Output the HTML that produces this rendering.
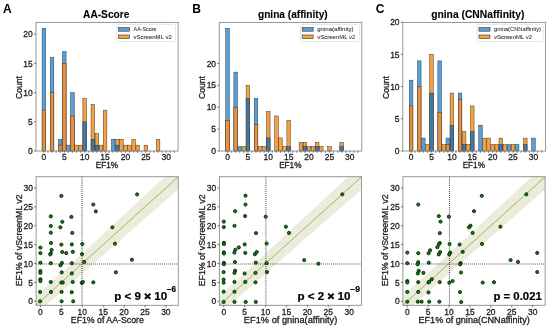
<!DOCTYPE html>
<html><head><meta charset="utf-8"><style>
html,body{margin:0;padding:0;background:#fff;width:550px;height:329px;overflow:hidden}
svg{display:block;will-change:transform}
</style></head><body>
<svg width="550" height="329" viewBox="0 0 550 329" font-family='"Liberation Sans", sans-serif' fill="#222">
<style>text{stroke:#222;stroke-width:0.3px}</style>
<rect width="550" height="329" fill="#fff"/>
<text x="3.00" y="13.3" font-size="12" font-weight="bold" fill="#000" style="stroke:none">A</text>
<text x="192.20" y="13.3" font-size="12" font-weight="bold" fill="#000" style="stroke:none">B</text>
<text x="375.70" y="13.3" font-size="12" font-weight="bold" fill="#000" style="stroke:none">C</text>
<text x="106.20" y="17.7" text-anchor="middle" font-size="10" font-weight="bold" fill="#000" textLength="46.3" lengthAdjust="spacingAndGlyphs" style="stroke:#000;stroke-width:0.1px">AA-Score</text>
<text x="292.85" y="17.7" text-anchor="middle" font-size="10" font-weight="bold" fill="#000" textLength="69.8" lengthAdjust="spacingAndGlyphs" style="stroke:#000;stroke-width:0.1px">gnina (affinity)</text>
<text x="477.80" y="17.7" text-anchor="middle" font-size="10" font-weight="bold" fill="#000" textLength="93.2" lengthAdjust="spacingAndGlyphs" style="stroke:#000;stroke-width:0.1px">gnina (CNNaffinity)</text>
<rect x="43.30" y="151.20" width="1.2" height="1.3" fill="#555"/>
<rect x="47.38" y="151.20" width="1.2" height="1.3" fill="#555"/>
<rect x="51.46" y="151.20" width="1.2" height="1.3" fill="#555"/>
<rect x="55.53" y="151.20" width="1.2" height="1.3" fill="#555"/>
<rect x="59.61" y="151.20" width="1.2" height="1.3" fill="#555"/>
<rect x="63.69" y="151.20" width="1.2" height="1.3" fill="#555"/>
<rect x="67.77" y="151.20" width="1.2" height="1.3" fill="#555"/>
<rect x="71.85" y="151.20" width="1.2" height="1.3" fill="#555"/>
<rect x="75.92" y="151.20" width="1.2" height="1.3" fill="#555"/>
<rect x="80.00" y="151.20" width="1.2" height="1.3" fill="#555"/>
<rect x="84.08" y="151.20" width="1.2" height="1.3" fill="#555"/>
<rect x="88.16" y="151.20" width="1.2" height="1.3" fill="#555"/>
<rect x="92.24" y="151.20" width="1.2" height="1.3" fill="#555"/>
<rect x="96.31" y="151.20" width="1.2" height="1.3" fill="#555"/>
<rect x="100.39" y="151.20" width="1.2" height="1.3" fill="#555"/>
<rect x="104.47" y="151.20" width="1.2" height="1.3" fill="#555"/>
<rect x="108.55" y="151.20" width="1.2" height="1.3" fill="#555"/>
<rect x="112.63" y="151.20" width="1.2" height="1.3" fill="#555"/>
<rect x="116.70" y="151.20" width="1.2" height="1.3" fill="#555"/>
<rect x="120.78" y="151.20" width="1.2" height="1.3" fill="#555"/>
<rect x="124.86" y="151.20" width="1.2" height="1.3" fill="#555"/>
<rect x="128.94" y="151.20" width="1.2" height="1.3" fill="#555"/>
<rect x="133.02" y="151.20" width="1.2" height="1.3" fill="#555"/>
<rect x="137.09" y="151.20" width="1.2" height="1.3" fill="#555"/>
<rect x="141.17" y="151.20" width="1.2" height="1.3" fill="#555"/>
<rect x="145.25" y="151.20" width="1.2" height="1.3" fill="#555"/>
<rect x="149.33" y="151.20" width="1.2" height="1.3" fill="#555"/>
<rect x="153.41" y="151.20" width="1.2" height="1.3" fill="#555"/>
<rect x="157.48" y="151.20" width="1.2" height="1.3" fill="#555"/>
<rect x="161.56" y="151.20" width="1.2" height="1.3" fill="#555"/>
<rect x="165.64" y="151.20" width="1.2" height="1.3" fill="#555"/>
<rect x="169.72" y="151.20" width="1.2" height="1.3" fill="#555"/>
<rect x="173.80" y="151.20" width="1.2" height="1.3" fill="#555"/>
<rect x="42.11" y="28.33" width="3.58" height="122.67" fill="#55a0db" stroke="#2a2a2a" stroke-width="0.45"/>
<rect x="42.11" y="110.11" width="3.58" height="40.89" fill="#ee8f3a" stroke="#2a2a2a" stroke-width="0.45"/>
<rect x="50.27" y="57.54" width="3.58" height="93.46" fill="#55a0db" stroke="#2a2a2a" stroke-width="0.45"/>
<rect x="50.27" y="92.59" width="3.58" height="58.41" fill="#ee8f3a" stroke="#2a2a2a" stroke-width="0.45"/>
<rect x="58.42" y="139.32" width="3.58" height="11.68" fill="#55a0db" stroke="#2a2a2a" stroke-width="0.45"/>
<rect x="58.42" y="145.16" width="3.58" height="5.84" fill="#ee8f3a" stroke="#2a2a2a" stroke-width="0.45"/>
<rect x="62.50" y="51.70" width="3.58" height="99.30" fill="#55a0db" stroke="#2a2a2a" stroke-width="0.45"/>
<rect x="62.50" y="63.38" width="3.58" height="87.62" fill="#ee8f3a" stroke="#2a2a2a" stroke-width="0.45"/>
<rect x="66.58" y="145.16" width="3.58" height="5.84" fill="#55a0db" stroke="#2a2a2a" stroke-width="0.45"/>
<rect x="70.66" y="92.59" width="3.58" height="58.41" fill="#55a0db" stroke="#2a2a2a" stroke-width="0.45"/>
<rect x="70.66" y="115.95" width="3.58" height="35.05" fill="#ee8f3a" stroke="#2a2a2a" stroke-width="0.45"/>
<rect x="74.73" y="145.16" width="3.58" height="5.84" fill="#f8a03e" stroke="#2a2a2a" stroke-width="0.45"/>
<rect x="78.81" y="145.16" width="3.58" height="5.84" fill="#f8a03e" stroke="#2a2a2a" stroke-width="0.45"/>
<rect x="82.89" y="98.43" width="3.58" height="52.57" fill="#f8a03e" stroke="#2a2a2a" stroke-width="0.45"/>
<rect x="82.89" y="121.79" width="3.58" height="29.21" fill="#4178a6" stroke="#2a2a2a" stroke-width="0.45"/>
<rect x="91.05" y="104.27" width="3.58" height="46.73" fill="#f8a03e" stroke="#2a2a2a" stroke-width="0.45"/>
<rect x="91.05" y="139.32" width="3.58" height="11.68" fill="#4178a6" stroke="#2a2a2a" stroke-width="0.45"/>
<rect x="95.12" y="133.48" width="3.58" height="17.52" fill="#f8a03e" stroke="#2a2a2a" stroke-width="0.45"/>
<rect x="95.12" y="145.16" width="3.58" height="5.84" fill="#4178a6" stroke="#2a2a2a" stroke-width="0.45"/>
<rect x="99.20" y="145.16" width="3.58" height="5.84" fill="#f8a03e" stroke="#2a2a2a" stroke-width="0.45"/>
<rect x="103.28" y="110.11" width="3.58" height="40.89" fill="#f8a03e" stroke="#2a2a2a" stroke-width="0.45"/>
<rect x="111.44" y="139.32" width="3.58" height="11.68" fill="#55a0db" stroke="#2a2a2a" stroke-width="0.45"/>
<rect x="115.52" y="139.32" width="3.58" height="11.68" fill="#f8a03e" stroke="#2a2a2a" stroke-width="0.45"/>
<rect x="115.52" y="145.16" width="3.58" height="5.84" fill="#4178a6" stroke="#2a2a2a" stroke-width="0.45"/>
<rect x="119.59" y="139.32" width="3.58" height="11.68" fill="#f8a03e" stroke="#2a2a2a" stroke-width="0.45"/>
<rect x="123.67" y="145.16" width="3.58" height="5.84" fill="#f8a03e" stroke="#2a2a2a" stroke-width="0.45"/>
<rect x="127.75" y="145.16" width="3.58" height="5.84" fill="#f8a03e" stroke="#2a2a2a" stroke-width="0.45"/>
<rect x="131.83" y="139.32" width="3.58" height="11.68" fill="#f8a03e" stroke="#2a2a2a" stroke-width="0.45"/>
<rect x="135.91" y="145.16" width="3.58" height="5.84" fill="#f8a03e" stroke="#2a2a2a" stroke-width="0.45"/>
<rect x="144.06" y="145.16" width="3.58" height="5.84" fill="#f8a03e" stroke="#2a2a2a" stroke-width="0.45"/>
<rect x="156.30" y="139.32" width="3.58" height="11.68" fill="#f8a03e" stroke="#2a2a2a" stroke-width="0.45"/>
<rect x="36.00" y="22.40" width="142.10" height="128.60" fill="none" stroke="#8c8c8c" stroke-width="0.9"/>
<line x1="34.00" y1="151.00" x2="36.00" y2="151.00" stroke="#555" stroke-width="0.8"/>
<text transform="translate(32.80,154.15) scale(0.885,1)" text-anchor="end" font-size="9.6">0</text>
<line x1="34.00" y1="121.79" x2="36.00" y2="121.79" stroke="#555" stroke-width="0.8"/>
<text transform="translate(32.80,124.94) scale(0.885,1)" text-anchor="end" font-size="9.6">5</text>
<line x1="34.00" y1="92.59" x2="36.00" y2="92.59" stroke="#555" stroke-width="0.8"/>
<text transform="translate(32.80,95.74) scale(0.885,1)" text-anchor="end" font-size="9.6">10</text>
<line x1="34.00" y1="63.38" x2="36.00" y2="63.38" stroke="#555" stroke-width="0.8"/>
<text transform="translate(32.80,66.53) scale(0.885,1)" text-anchor="end" font-size="9.6">15</text>
<line x1="34.00" y1="34.17" x2="36.00" y2="34.17" stroke="#555" stroke-width="0.8"/>
<text transform="translate(32.80,37.32) scale(0.885,1)" text-anchor="end" font-size="9.6">20</text>
<text transform="translate(43.90,159.95) scale(0.885,1)" text-anchor="middle" font-size="9.6">0</text>
<text transform="translate(64.29,159.95) scale(0.885,1)" text-anchor="middle" font-size="9.6">5</text>
<text transform="translate(84.68,159.95) scale(0.885,1)" text-anchor="middle" font-size="9.6">10</text>
<text transform="translate(105.07,159.95) scale(0.885,1)" text-anchor="middle" font-size="9.6">15</text>
<text transform="translate(125.46,159.95) scale(0.885,1)" text-anchor="middle" font-size="9.6">20</text>
<text transform="translate(145.85,159.95) scale(0.885,1)" text-anchor="middle" font-size="9.6">25</text>
<text transform="translate(166.24,159.95) scale(0.885,1)" text-anchor="middle" font-size="9.6">30</text>
<text x="107.00" y="168.20" text-anchor="middle" font-size="8.2">EF1%</text>
<text transform="translate(22.00,87.50) rotate(-90)" text-anchor="middle" font-size="8.6">Count</text>
<rect x="226.90" y="151.20" width="1.2" height="1.3" fill="#555"/>
<rect x="230.98" y="151.20" width="1.2" height="1.3" fill="#555"/>
<rect x="235.06" y="151.20" width="1.2" height="1.3" fill="#555"/>
<rect x="239.13" y="151.20" width="1.2" height="1.3" fill="#555"/>
<rect x="243.21" y="151.20" width="1.2" height="1.3" fill="#555"/>
<rect x="247.29" y="151.20" width="1.2" height="1.3" fill="#555"/>
<rect x="251.37" y="151.20" width="1.2" height="1.3" fill="#555"/>
<rect x="255.45" y="151.20" width="1.2" height="1.3" fill="#555"/>
<rect x="259.52" y="151.20" width="1.2" height="1.3" fill="#555"/>
<rect x="263.60" y="151.20" width="1.2" height="1.3" fill="#555"/>
<rect x="267.68" y="151.20" width="1.2" height="1.3" fill="#555"/>
<rect x="271.76" y="151.20" width="1.2" height="1.3" fill="#555"/>
<rect x="275.84" y="151.20" width="1.2" height="1.3" fill="#555"/>
<rect x="279.91" y="151.20" width="1.2" height="1.3" fill="#555"/>
<rect x="283.99" y="151.20" width="1.2" height="1.3" fill="#555"/>
<rect x="288.07" y="151.20" width="1.2" height="1.3" fill="#555"/>
<rect x="292.15" y="151.20" width="1.2" height="1.3" fill="#555"/>
<rect x="296.23" y="151.20" width="1.2" height="1.3" fill="#555"/>
<rect x="300.30" y="151.20" width="1.2" height="1.3" fill="#555"/>
<rect x="304.38" y="151.20" width="1.2" height="1.3" fill="#555"/>
<rect x="308.46" y="151.20" width="1.2" height="1.3" fill="#555"/>
<rect x="312.54" y="151.20" width="1.2" height="1.3" fill="#555"/>
<rect x="316.62" y="151.20" width="1.2" height="1.3" fill="#555"/>
<rect x="320.69" y="151.20" width="1.2" height="1.3" fill="#555"/>
<rect x="324.77" y="151.20" width="1.2" height="1.3" fill="#555"/>
<rect x="328.85" y="151.20" width="1.2" height="1.3" fill="#555"/>
<rect x="332.93" y="151.20" width="1.2" height="1.3" fill="#555"/>
<rect x="337.01" y="151.20" width="1.2" height="1.3" fill="#555"/>
<rect x="341.08" y="151.20" width="1.2" height="1.3" fill="#555"/>
<rect x="345.16" y="151.20" width="1.2" height="1.3" fill="#555"/>
<rect x="349.24" y="151.20" width="1.2" height="1.3" fill="#555"/>
<rect x="353.32" y="151.20" width="1.2" height="1.3" fill="#555"/>
<rect x="357.40" y="151.20" width="1.2" height="1.3" fill="#555"/>
<rect x="225.71" y="28.33" width="3.58" height="122.67" fill="#55a0db" stroke="#2a2a2a" stroke-width="0.45"/>
<rect x="225.71" y="120.33" width="3.58" height="30.67" fill="#ee8f3a" stroke="#2a2a2a" stroke-width="0.45"/>
<rect x="233.87" y="72.14" width="3.58" height="78.86" fill="#55a0db" stroke="#2a2a2a" stroke-width="0.45"/>
<rect x="233.87" y="107.19" width="3.58" height="43.81" fill="#ee8f3a" stroke="#2a2a2a" stroke-width="0.45"/>
<rect x="237.94" y="146.62" width="3.58" height="4.38" fill="#55a0db" stroke="#2a2a2a" stroke-width="0.45"/>
<rect x="242.02" y="146.62" width="3.58" height="4.38" fill="#f8a03e" stroke="#2a2a2a" stroke-width="0.45"/>
<rect x="246.10" y="85.29" width="3.58" height="65.71" fill="#f8a03e" stroke="#2a2a2a" stroke-width="0.45"/>
<rect x="246.10" y="98.43" width="3.58" height="52.57" fill="#4178a6" stroke="#2a2a2a" stroke-width="0.45"/>
<rect x="254.26" y="98.43" width="3.58" height="52.57" fill="#55a0db" stroke="#2a2a2a" stroke-width="0.45"/>
<rect x="254.26" y="124.71" width="3.58" height="26.29" fill="#ee8f3a" stroke="#2a2a2a" stroke-width="0.45"/>
<rect x="258.33" y="146.62" width="3.58" height="4.38" fill="#f8a03e" stroke="#2a2a2a" stroke-width="0.45"/>
<rect x="262.41" y="146.62" width="3.58" height="4.38" fill="#f8a03e" stroke="#2a2a2a" stroke-width="0.45"/>
<rect x="266.49" y="111.57" width="3.58" height="39.43" fill="#f8a03e" stroke="#2a2a2a" stroke-width="0.45"/>
<rect x="266.49" y="137.86" width="3.58" height="13.14" fill="#4178a6" stroke="#2a2a2a" stroke-width="0.45"/>
<rect x="274.65" y="115.95" width="3.58" height="35.05" fill="#f8a03e" stroke="#2a2a2a" stroke-width="0.45"/>
<rect x="278.73" y="137.86" width="3.58" height="13.14" fill="#f8a03e" stroke="#2a2a2a" stroke-width="0.45"/>
<rect x="282.80" y="146.62" width="3.58" height="4.38" fill="#f8a03e" stroke="#2a2a2a" stroke-width="0.45"/>
<rect x="286.88" y="120.33" width="3.58" height="30.67" fill="#f8a03e" stroke="#2a2a2a" stroke-width="0.45"/>
<rect x="286.88" y="146.62" width="3.58" height="4.38" fill="#4178a6" stroke="#2a2a2a" stroke-width="0.45"/>
<rect x="299.12" y="142.24" width="3.58" height="8.76" fill="#f8a03e" stroke="#2a2a2a" stroke-width="0.45"/>
<rect x="303.19" y="142.24" width="3.58" height="8.76" fill="#f8a03e" stroke="#2a2a2a" stroke-width="0.45"/>
<rect x="303.19" y="146.62" width="3.58" height="4.38" fill="#4178a6" stroke="#2a2a2a" stroke-width="0.45"/>
<rect x="307.27" y="146.62" width="3.58" height="4.38" fill="#f8a03e" stroke="#2a2a2a" stroke-width="0.45"/>
<rect x="311.35" y="146.62" width="3.58" height="4.38" fill="#f8a03e" stroke="#2a2a2a" stroke-width="0.45"/>
<rect x="315.43" y="142.24" width="3.58" height="8.76" fill="#f8a03e" stroke="#2a2a2a" stroke-width="0.45"/>
<rect x="315.43" y="146.62" width="3.58" height="4.38" fill="#4178a6" stroke="#2a2a2a" stroke-width="0.45"/>
<rect x="319.50" y="146.62" width="3.58" height="4.38" fill="#f8a03e" stroke="#2a2a2a" stroke-width="0.45"/>
<rect x="327.66" y="146.62" width="3.58" height="4.38" fill="#f8a03e" stroke="#2a2a2a" stroke-width="0.45"/>
<rect x="339.89" y="142.24" width="3.58" height="8.76" fill="#f8a03e" stroke="#2a2a2a" stroke-width="0.45"/>
<rect x="339.89" y="146.62" width="3.58" height="4.38" fill="#4178a6" stroke="#2a2a2a" stroke-width="0.45"/>
<rect x="219.30" y="22.40" width="142.45" height="128.60" fill="none" stroke="#8c8c8c" stroke-width="0.9"/>
<line x1="217.30" y1="151.00" x2="219.30" y2="151.00" stroke="#555" stroke-width="0.8"/>
<text transform="translate(216.10,154.15) scale(0.885,1)" text-anchor="end" font-size="9.6">0</text>
<line x1="217.30" y1="129.10" x2="219.30" y2="129.10" stroke="#555" stroke-width="0.8"/>
<text transform="translate(216.10,132.25) scale(0.885,1)" text-anchor="end" font-size="9.6">5</text>
<line x1="217.30" y1="107.19" x2="219.30" y2="107.19" stroke="#555" stroke-width="0.8"/>
<text transform="translate(216.10,110.34) scale(0.885,1)" text-anchor="end" font-size="9.6">10</text>
<line x1="217.30" y1="85.29" x2="219.30" y2="85.29" stroke="#555" stroke-width="0.8"/>
<text transform="translate(216.10,88.44) scale(0.885,1)" text-anchor="end" font-size="9.6">15</text>
<line x1="217.30" y1="63.38" x2="219.30" y2="63.38" stroke="#555" stroke-width="0.8"/>
<text transform="translate(216.10,66.53) scale(0.885,1)" text-anchor="end" font-size="9.6">20</text>
<text transform="translate(227.50,159.95) scale(0.885,1)" text-anchor="middle" font-size="9.6">0</text>
<text transform="translate(247.89,159.95) scale(0.885,1)" text-anchor="middle" font-size="9.6">5</text>
<text transform="translate(268.28,159.95) scale(0.885,1)" text-anchor="middle" font-size="9.6">10</text>
<text transform="translate(288.67,159.95) scale(0.885,1)" text-anchor="middle" font-size="9.6">15</text>
<text transform="translate(309.06,159.95) scale(0.885,1)" text-anchor="middle" font-size="9.6">20</text>
<text transform="translate(329.45,159.95) scale(0.885,1)" text-anchor="middle" font-size="9.6">25</text>
<text transform="translate(349.84,159.95) scale(0.885,1)" text-anchor="middle" font-size="9.6">30</text>
<text x="290.30" y="168.20" text-anchor="middle" font-size="8.2">EF1%</text>
<text transform="translate(205.30,87.50) rotate(-90)" text-anchor="middle" font-size="8.6">Count</text>
<rect x="410.50" y="151.20" width="1.2" height="1.3" fill="#555"/>
<rect x="414.58" y="151.20" width="1.2" height="1.3" fill="#555"/>
<rect x="418.66" y="151.20" width="1.2" height="1.3" fill="#555"/>
<rect x="422.73" y="151.20" width="1.2" height="1.3" fill="#555"/>
<rect x="426.81" y="151.20" width="1.2" height="1.3" fill="#555"/>
<rect x="430.89" y="151.20" width="1.2" height="1.3" fill="#555"/>
<rect x="434.97" y="151.20" width="1.2" height="1.3" fill="#555"/>
<rect x="439.05" y="151.20" width="1.2" height="1.3" fill="#555"/>
<rect x="443.12" y="151.20" width="1.2" height="1.3" fill="#555"/>
<rect x="447.20" y="151.20" width="1.2" height="1.3" fill="#555"/>
<rect x="451.28" y="151.20" width="1.2" height="1.3" fill="#555"/>
<rect x="455.36" y="151.20" width="1.2" height="1.3" fill="#555"/>
<rect x="459.44" y="151.20" width="1.2" height="1.3" fill="#555"/>
<rect x="463.51" y="151.20" width="1.2" height="1.3" fill="#555"/>
<rect x="467.59" y="151.20" width="1.2" height="1.3" fill="#555"/>
<rect x="471.67" y="151.20" width="1.2" height="1.3" fill="#555"/>
<rect x="475.75" y="151.20" width="1.2" height="1.3" fill="#555"/>
<rect x="479.83" y="151.20" width="1.2" height="1.3" fill="#555"/>
<rect x="483.90" y="151.20" width="1.2" height="1.3" fill="#555"/>
<rect x="487.98" y="151.20" width="1.2" height="1.3" fill="#555"/>
<rect x="492.06" y="151.20" width="1.2" height="1.3" fill="#555"/>
<rect x="496.14" y="151.20" width="1.2" height="1.3" fill="#555"/>
<rect x="500.22" y="151.20" width="1.2" height="1.3" fill="#555"/>
<rect x="504.29" y="151.20" width="1.2" height="1.3" fill="#555"/>
<rect x="508.37" y="151.20" width="1.2" height="1.3" fill="#555"/>
<rect x="512.45" y="151.20" width="1.2" height="1.3" fill="#555"/>
<rect x="516.53" y="151.20" width="1.2" height="1.3" fill="#555"/>
<rect x="520.61" y="151.20" width="1.2" height="1.3" fill="#555"/>
<rect x="524.68" y="151.20" width="1.2" height="1.3" fill="#555"/>
<rect x="528.76" y="151.20" width="1.2" height="1.3" fill="#555"/>
<rect x="532.84" y="151.20" width="1.2" height="1.3" fill="#555"/>
<rect x="536.92" y="151.20" width="1.2" height="1.3" fill="#555"/>
<rect x="541.00" y="151.20" width="1.2" height="1.3" fill="#555"/>
<rect x="409.31" y="80.16" width="3.58" height="70.84" fill="#55a0db" stroke="#2a2a2a" stroke-width="0.45"/>
<rect x="409.31" y="105.92" width="3.58" height="45.08" fill="#ee8f3a" stroke="#2a2a2a" stroke-width="0.45"/>
<rect x="417.47" y="60.84" width="3.58" height="90.16" fill="#55a0db" stroke="#2a2a2a" stroke-width="0.45"/>
<rect x="417.47" y="86.60" width="3.58" height="64.40" fill="#ee8f3a" stroke="#2a2a2a" stroke-width="0.45"/>
<rect x="421.55" y="138.12" width="3.58" height="12.88" fill="#55a0db" stroke="#2a2a2a" stroke-width="0.45"/>
<rect x="425.62" y="144.56" width="3.58" height="6.44" fill="#f8a03e" stroke="#2a2a2a" stroke-width="0.45"/>
<rect x="429.70" y="54.40" width="3.58" height="96.60" fill="#f8a03e" stroke="#2a2a2a" stroke-width="0.45"/>
<rect x="429.70" y="93.04" width="3.58" height="57.96" fill="#4178a6" stroke="#2a2a2a" stroke-width="0.45"/>
<rect x="437.86" y="60.84" width="3.58" height="90.16" fill="#55a0db" stroke="#2a2a2a" stroke-width="0.45"/>
<rect x="437.86" y="112.36" width="3.58" height="38.64" fill="#ee8f3a" stroke="#2a2a2a" stroke-width="0.45"/>
<rect x="441.94" y="144.56" width="3.58" height="6.44" fill="#f8a03e" stroke="#2a2a2a" stroke-width="0.45"/>
<rect x="446.01" y="138.12" width="3.58" height="12.88" fill="#55a0db" stroke="#2a2a2a" stroke-width="0.45"/>
<rect x="446.01" y="144.56" width="3.58" height="6.44" fill="#ee8f3a" stroke="#2a2a2a" stroke-width="0.45"/>
<rect x="450.09" y="93.04" width="3.58" height="57.96" fill="#f8a03e" stroke="#2a2a2a" stroke-width="0.45"/>
<rect x="450.09" y="125.24" width="3.58" height="25.76" fill="#4178a6" stroke="#2a2a2a" stroke-width="0.45"/>
<rect x="458.25" y="93.04" width="3.58" height="57.96" fill="#55a0db" stroke="#2a2a2a" stroke-width="0.45"/>
<rect x="458.25" y="99.48" width="3.58" height="51.52" fill="#ee8f3a" stroke="#2a2a2a" stroke-width="0.45"/>
<rect x="462.33" y="131.68" width="3.58" height="19.32" fill="#f8a03e" stroke="#2a2a2a" stroke-width="0.45"/>
<rect x="462.33" y="144.56" width="3.58" height="6.44" fill="#4178a6" stroke="#2a2a2a" stroke-width="0.45"/>
<rect x="466.40" y="144.56" width="3.58" height="6.44" fill="#f8a03e" stroke="#2a2a2a" stroke-width="0.45"/>
<rect x="470.48" y="105.92" width="3.58" height="45.08" fill="#f8a03e" stroke="#2a2a2a" stroke-width="0.45"/>
<rect x="470.48" y="131.68" width="3.58" height="19.32" fill="#4178a6" stroke="#2a2a2a" stroke-width="0.45"/>
<rect x="478.64" y="125.24" width="3.58" height="25.76" fill="#55a0db" stroke="#2a2a2a" stroke-width="0.45"/>
<rect x="482.72" y="138.12" width="3.58" height="12.88" fill="#f8a03e" stroke="#2a2a2a" stroke-width="0.45"/>
<rect x="486.79" y="138.12" width="3.58" height="12.88" fill="#f8a03e" stroke="#2a2a2a" stroke-width="0.45"/>
<rect x="490.87" y="144.56" width="3.58" height="6.44" fill="#f8a03e" stroke="#2a2a2a" stroke-width="0.45"/>
<rect x="494.95" y="144.56" width="3.58" height="6.44" fill="#f8a03e" stroke="#2a2a2a" stroke-width="0.45"/>
<rect x="499.03" y="138.12" width="3.58" height="12.88" fill="#f8a03e" stroke="#2a2a2a" stroke-width="0.45"/>
<rect x="499.03" y="144.56" width="3.58" height="6.44" fill="#4178a6" stroke="#2a2a2a" stroke-width="0.45"/>
<rect x="503.11" y="144.56" width="3.58" height="6.44" fill="#f8a03e" stroke="#2a2a2a" stroke-width="0.45"/>
<rect x="507.18" y="144.56" width="3.58" height="6.44" fill="#55a0db" stroke="#2a2a2a" stroke-width="0.45"/>
<rect x="511.26" y="144.56" width="3.58" height="6.44" fill="#f8a03e" stroke="#2a2a2a" stroke-width="0.45"/>
<rect x="515.34" y="144.56" width="3.58" height="6.44" fill="#55a0db" stroke="#2a2a2a" stroke-width="0.45"/>
<rect x="523.50" y="138.12" width="3.58" height="12.88" fill="#f8a03e" stroke="#2a2a2a" stroke-width="0.45"/>
<rect x="523.50" y="144.56" width="3.58" height="6.44" fill="#4178a6" stroke="#2a2a2a" stroke-width="0.45"/>
<rect x="531.65" y="138.12" width="3.58" height="12.88" fill="#55a0db" stroke="#2a2a2a" stroke-width="0.45"/>
<rect x="402.80" y="22.40" width="142.75" height="128.60" fill="none" stroke="#8c8c8c" stroke-width="0.9"/>
<line x1="400.80" y1="151.00" x2="402.80" y2="151.00" stroke="#555" stroke-width="0.8"/>
<text transform="translate(399.60,154.15) scale(0.885,1)" text-anchor="end" font-size="9.6">0</text>
<line x1="400.80" y1="118.80" x2="402.80" y2="118.80" stroke="#555" stroke-width="0.8"/>
<text transform="translate(399.60,121.95) scale(0.885,1)" text-anchor="end" font-size="9.6">5</text>
<line x1="400.80" y1="86.60" x2="402.80" y2="86.60" stroke="#555" stroke-width="0.8"/>
<text transform="translate(399.60,89.75) scale(0.885,1)" text-anchor="end" font-size="9.6">10</text>
<line x1="400.80" y1="54.40" x2="402.80" y2="54.40" stroke="#555" stroke-width="0.8"/>
<text transform="translate(399.60,57.55) scale(0.885,1)" text-anchor="end" font-size="9.6">15</text>
<line x1="400.80" y1="22.20" x2="402.80" y2="22.20" stroke="#555" stroke-width="0.8"/>
<text transform="translate(399.60,25.35) scale(0.885,1)" text-anchor="end" font-size="9.6">20</text>
<text transform="translate(411.10,159.95) scale(0.885,1)" text-anchor="middle" font-size="9.6">0</text>
<text transform="translate(431.49,159.95) scale(0.885,1)" text-anchor="middle" font-size="9.6">5</text>
<text transform="translate(451.88,159.95) scale(0.885,1)" text-anchor="middle" font-size="9.6">10</text>
<text transform="translate(472.27,159.95) scale(0.885,1)" text-anchor="middle" font-size="9.6">15</text>
<text transform="translate(492.66,159.95) scale(0.885,1)" text-anchor="middle" font-size="9.6">20</text>
<text transform="translate(513.05,159.95) scale(0.885,1)" text-anchor="middle" font-size="9.6">25</text>
<text transform="translate(533.44,159.95) scale(0.885,1)" text-anchor="middle" font-size="9.6">30</text>
<text x="473.80" y="168.20" text-anchor="middle" font-size="8.2">EF1%</text>
<text transform="translate(388.80,87.50) rotate(-90)" text-anchor="middle" font-size="8.6">Count</text>
<rect x="116.80" y="24.4" width="58.80" height="17.1" rx="1" fill="#fff" fill-opacity="0.85" stroke="#dcdcdc" stroke-width="0.7"/>
<rect x="118.60" y="27.6" width="11" height="3.6" fill="#55a0db" stroke="#333" stroke-width="0.6"/>
<rect x="118.60" y="35.0" width="11" height="3.5" fill="#f8a03e" stroke="#333" stroke-width="0.6"/>
<text x="133.60" y="31.3" font-size="6.0" style="stroke:#333;stroke-width:0.08px" fill="#333" textLength="22.9" lengthAdjust="spacingAndGlyphs">AA-Score</text>
<text x="133.60" y="38.6" font-size="6.0" style="stroke:#333;stroke-width:0.08px" fill="#333">vScreenML v2</text>
<rect x="300.40" y="24.4" width="59.20" height="17.1" rx="1" fill="#fff" fill-opacity="0.85" stroke="#dcdcdc" stroke-width="0.7"/>
<rect x="302.20" y="27.6" width="11" height="3.6" fill="#55a0db" stroke="#333" stroke-width="0.6"/>
<rect x="302.20" y="35.0" width="11" height="3.5" fill="#f8a03e" stroke="#333" stroke-width="0.6"/>
<text x="317.20" y="31.3" font-size="6.0" style="stroke:#333;stroke-width:0.08px" fill="#333" textLength="36.3" lengthAdjust="spacingAndGlyphs">gnina(affinity)</text>
<text x="317.20" y="38.6" font-size="6.0" style="stroke:#333;stroke-width:0.08px" fill="#333">vScreenML v2</text>
<rect x="477.20" y="24.4" width="66.00" height="17.1" rx="1" fill="#fff" fill-opacity="0.85" stroke="#dcdcdc" stroke-width="0.7"/>
<rect x="479.00" y="27.6" width="11" height="3.6" fill="#55a0db" stroke="#333" stroke-width="0.6"/>
<rect x="479.00" y="35.0" width="11" height="3.5" fill="#f8a03e" stroke="#333" stroke-width="0.6"/>
<text x="494.00" y="31.3" font-size="6.0" style="stroke:#333;stroke-width:0.08px" fill="#333" textLength="47.0" lengthAdjust="spacingAndGlyphs">gnina(CNNaffinity)</text>
<text x="494.00" y="38.6" font-size="6.0" style="stroke:#333;stroke-width:0.08px" fill="#333">vScreenML v2</text>
<clipPath id="clip0"><rect x="36.10" y="176.70" width="142.20" height="128.60"/></clipPath>
<g clip-path="url(#clip0)">
<polygon points="19.55,311.87 207.65,136.86 207.65,163.66 19.55,328.49" fill="#ebecdb"/>
<line x1="19.55" y1="320.18" x2="207.65" y2="150.26" stroke="#a8b35e" stroke-width="1.0"/>
</g>
<line x1="82.00" y1="176.70" x2="82.00" y2="305.30" stroke="#555" stroke-width="1.1" stroke-dasharray="1 1.03"/>
<line x1="36.10" y1="264.0" x2="178.30" y2="264.0" stroke="#555" stroke-width="1.1" stroke-dasharray="1 1.03"/>
<circle cx="61.40" cy="195.90" r="1.6" fill="#0d820d" stroke="#001800" stroke-width="0.8"/>
<circle cx="50.80" cy="216.30" r="1.6" fill="#0d820d" stroke="#001800" stroke-width="0.8"/>
<circle cx="71.40" cy="216.90" r="1.6" fill="#0d820d" stroke="#001800" stroke-width="0.8"/>
<circle cx="62.30" cy="221.80" r="1.6" fill="#0d820d" stroke="#001800" stroke-width="0.8"/>
<circle cx="50.80" cy="226.00" r="1.6" fill="#0d820d" stroke="#001800" stroke-width="0.8"/>
<circle cx="60.40" cy="227.30" r="1.6" fill="#0d820d" stroke="#001800" stroke-width="0.8"/>
<circle cx="50.80" cy="232.70" r="1.6" fill="#0d820d" stroke="#001800" stroke-width="0.8"/>
<circle cx="72.30" cy="232.90" r="1.6" fill="#0d820d" stroke="#001800" stroke-width="0.8"/>
<circle cx="93.30" cy="204.50" r="1.6" fill="#0d820d" stroke="#001800" stroke-width="0.8"/>
<circle cx="137.10" cy="194.40" r="1.6" fill="#0d820d" stroke="#001800" stroke-width="0.8"/>
<circle cx="95.80" cy="211.40" r="1.6" fill="#0d820d" stroke="#001800" stroke-width="0.8"/>
<circle cx="112.40" cy="227.30" r="1.6" fill="#0d820d" stroke="#001800" stroke-width="0.8"/>
<circle cx="51.00" cy="243.00" r="1.6" fill="#0d820d" stroke="#001800" stroke-width="0.8"/>
<circle cx="61.40" cy="244.60" r="1.6" fill="#0d820d" stroke="#001800" stroke-width="0.8"/>
<circle cx="71.80" cy="244.40" r="1.6" fill="#0d820d" stroke="#001800" stroke-width="0.8"/>
<circle cx="40.40" cy="247.60" r="1.6" fill="#0d820d" stroke="#001800" stroke-width="0.8"/>
<circle cx="40.40" cy="253.10" r="1.6" fill="#0d820d" stroke="#001800" stroke-width="0.8"/>
<circle cx="51.60" cy="249.90" r="1.6" fill="#0d820d" stroke="#001800" stroke-width="0.8"/>
<circle cx="50.80" cy="253.30" r="1.6" fill="#0d820d" stroke="#001800" stroke-width="0.8"/>
<circle cx="50.20" cy="254.40" r="1.6" fill="#0d820d" stroke="#001800" stroke-width="0.8"/>
<circle cx="62.20" cy="252.00" r="1.6" fill="#0d820d" stroke="#001800" stroke-width="0.8"/>
<circle cx="66.20" cy="253.10" r="1.6" fill="#0d820d" stroke="#001800" stroke-width="0.8"/>
<circle cx="72.80" cy="251.80" r="1.6" fill="#0d820d" stroke="#001800" stroke-width="0.8"/>
<circle cx="40.40" cy="262.70" r="1.6" fill="#0d820d" stroke="#001800" stroke-width="0.8"/>
<circle cx="50.80" cy="263.20" r="1.6" fill="#0d820d" stroke="#001800" stroke-width="0.8"/>
<circle cx="61.90" cy="262.90" r="1.6" fill="#0d820d" stroke="#001800" stroke-width="0.8"/>
<circle cx="60.40" cy="265.30" r="1.6" fill="#0d820d" stroke="#001800" stroke-width="0.8"/>
<circle cx="71.80" cy="263.20" r="1.6" fill="#0d820d" stroke="#001800" stroke-width="0.8"/>
<circle cx="82.30" cy="244.00" r="1.6" fill="#0d820d" stroke="#001800" stroke-width="0.8"/>
<circle cx="82.00" cy="254.10" r="1.6" fill="#0d820d" stroke="#001800" stroke-width="0.8"/>
<circle cx="84.20" cy="261.90" r="1.6" fill="#0d820d" stroke="#001800" stroke-width="0.8"/>
<circle cx="61.70" cy="272.30" r="1.6" fill="#0d820d" stroke="#001800" stroke-width="0.8"/>
<circle cx="71.80" cy="273.40" r="1.6" fill="#0d820d" stroke="#001800" stroke-width="0.8"/>
<circle cx="40.40" cy="271.00" r="1.6" fill="#0d820d" stroke="#001800" stroke-width="0.8"/>
<circle cx="40.40" cy="272.90" r="1.6" fill="#0d820d" stroke="#001800" stroke-width="0.8"/>
<circle cx="40.40" cy="279.20" r="1.6" fill="#0d820d" stroke="#001800" stroke-width="0.8"/>
<circle cx="40.40" cy="281.10" r="1.6" fill="#0d820d" stroke="#001800" stroke-width="0.8"/>
<circle cx="50.80" cy="282.00" r="1.6" fill="#0d820d" stroke="#001800" stroke-width="0.8"/>
<circle cx="61.40" cy="282.50" r="1.6" fill="#0d820d" stroke="#001800" stroke-width="0.8"/>
<circle cx="62.80" cy="282.50" r="1.6" fill="#0d820d" stroke="#001800" stroke-width="0.8"/>
<circle cx="72.70" cy="282.00" r="1.6" fill="#0d820d" stroke="#001800" stroke-width="0.8"/>
<circle cx="81.80" cy="282.90" r="1.6" fill="#0d820d" stroke="#001800" stroke-width="0.8"/>
<circle cx="82.90" cy="282.00" r="1.6" fill="#0d820d" stroke="#001800" stroke-width="0.8"/>
<circle cx="93.30" cy="282.30" r="1.6" fill="#0d820d" stroke="#001800" stroke-width="0.8"/>
<circle cx="40.10" cy="291.90" r="1.6" fill="#0d820d" stroke="#001800" stroke-width="0.8"/>
<circle cx="51.00" cy="291.90" r="1.6" fill="#0d820d" stroke="#001800" stroke-width="0.8"/>
<circle cx="61.60" cy="291.90" r="1.6" fill="#0d820d" stroke="#001800" stroke-width="0.8"/>
<circle cx="71.70" cy="292.20" r="1.6" fill="#0d820d" stroke="#001800" stroke-width="0.8"/>
<circle cx="40.10" cy="301.30" r="1.6" fill="#0d820d" stroke="#001800" stroke-width="0.8"/>
<circle cx="61.60" cy="301.30" r="1.6" fill="#0d820d" stroke="#001800" stroke-width="0.8"/>
<circle cx="73.20" cy="301.30" r="1.6" fill="#0d820d" stroke="#001800" stroke-width="0.8"/>
<circle cx="115.00" cy="243.70" r="1.6" fill="#0d820d" stroke="#001800" stroke-width="0.8"/>
<circle cx="131.90" cy="259.70" r="1.6" fill="#0d820d" stroke="#001800" stroke-width="0.8"/>
<circle cx="115.90" cy="272.30" r="1.6" fill="#0d820d" stroke="#001800" stroke-width="0.8"/>
<rect x="36.10" y="176.70" width="142.20" height="128.60" fill="none" stroke="#8c8c8c" stroke-width="0.9"/>
<line x1="34.10" y1="301.30" x2="36.10" y2="301.30" stroke="#555" stroke-width="0.8"/>
<text transform="translate(32.90,304.45) scale(0.885,1)" text-anchor="end" font-size="9.6">0</text>
<line x1="40.45" y1="305.30" x2="40.45" y2="307.30" stroke="#555" stroke-width="0.8"/>
<text transform="translate(40.45,314.80) scale(0.885,1)" text-anchor="middle" font-size="9.6">0</text>
<line x1="34.10" y1="282.42" x2="36.10" y2="282.42" stroke="#555" stroke-width="0.8"/>
<text transform="translate(32.90,285.57) scale(0.885,1)" text-anchor="end" font-size="9.6">5</text>
<line x1="61.35" y1="305.30" x2="61.35" y2="307.30" stroke="#555" stroke-width="0.8"/>
<text transform="translate(61.35,314.80) scale(0.885,1)" text-anchor="middle" font-size="9.6">5</text>
<line x1="34.10" y1="263.54" x2="36.10" y2="263.54" stroke="#555" stroke-width="0.8"/>
<text transform="translate(32.90,266.69) scale(0.885,1)" text-anchor="end" font-size="9.6">10</text>
<line x1="82.25" y1="305.30" x2="82.25" y2="307.30" stroke="#555" stroke-width="0.8"/>
<text transform="translate(82.25,314.80) scale(0.885,1)" text-anchor="middle" font-size="9.6">10</text>
<line x1="34.10" y1="244.66" x2="36.10" y2="244.66" stroke="#555" stroke-width="0.8"/>
<text transform="translate(32.90,247.81) scale(0.885,1)" text-anchor="end" font-size="9.6">15</text>
<line x1="103.15" y1="305.30" x2="103.15" y2="307.30" stroke="#555" stroke-width="0.8"/>
<text transform="translate(103.15,314.80) scale(0.885,1)" text-anchor="middle" font-size="9.6">15</text>
<line x1="34.10" y1="225.78" x2="36.10" y2="225.78" stroke="#555" stroke-width="0.8"/>
<text transform="translate(32.90,228.93) scale(0.885,1)" text-anchor="end" font-size="9.6">20</text>
<line x1="124.05" y1="305.30" x2="124.05" y2="307.30" stroke="#555" stroke-width="0.8"/>
<text transform="translate(124.05,314.80) scale(0.885,1)" text-anchor="middle" font-size="9.6">20</text>
<line x1="34.10" y1="206.90" x2="36.10" y2="206.90" stroke="#555" stroke-width="0.8"/>
<text transform="translate(32.90,210.05) scale(0.885,1)" text-anchor="end" font-size="9.6">25</text>
<line x1="144.95" y1="305.30" x2="144.95" y2="307.30" stroke="#555" stroke-width="0.8"/>
<text transform="translate(144.95,314.80) scale(0.885,1)" text-anchor="middle" font-size="9.6">25</text>
<line x1="34.10" y1="188.02" x2="36.10" y2="188.02" stroke="#555" stroke-width="0.8"/>
<text transform="translate(32.90,191.17) scale(0.885,1)" text-anchor="end" font-size="9.6">30</text>
<line x1="165.85" y1="305.30" x2="165.85" y2="307.30" stroke="#555" stroke-width="0.8"/>
<text transform="translate(165.85,314.80) scale(0.885,1)" text-anchor="middle" font-size="9.6">30</text>
<text x="107.30" y="323.0" text-anchor="middle" font-size="9" textLength="73.0" lengthAdjust="spacingAndGlyphs">EF1% of AA-Score</text>
<text transform="translate(21.60,240.30) rotate(-90)" text-anchor="middle" font-size="8.8">EF1% of vScreenML v2</text>
<g fill="#000"><text x="114.2" y="299.6" font-size="11.4" font-weight="bold" textLength="53" lengthAdjust="spacingAndGlyphs" style="stroke:#000;stroke-width:0.2px">p &lt; 9 <tspan style="stroke:#000;stroke-width:0.7px">×</tspan> 10</text><text x="166.8" y="291.8" font-size="8.2" font-weight="bold" textLength="9.3" lengthAdjust="spacingAndGlyphs" style="stroke:#000;stroke-width:0.2px">−6</text></g>
<clipPath id="clip1"><rect x="219.40" y="176.70" width="142.20" height="128.60"/></clipPath>
<g clip-path="url(#clip1)">
<polygon points="202.85,311.87 390.95,136.86 390.95,163.66 202.85,328.49" fill="#ebecdb"/>
<line x1="202.85" y1="320.18" x2="390.95" y2="150.26" stroke="#a8b35e" stroke-width="1.0"/>
</g>
<line x1="265.90" y1="176.70" x2="265.90" y2="305.30" stroke="#555" stroke-width="1.1" stroke-dasharray="1 1.03"/>
<line x1="219.40" y1="264.0" x2="361.60" y2="264.0" stroke="#555" stroke-width="1.1" stroke-dasharray="1 1.03"/>
<circle cx="245.50" cy="195.70" r="1.6" fill="#0d820d" stroke="#001800" stroke-width="0.8"/>
<circle cx="245.50" cy="204.50" r="1.6" fill="#0d820d" stroke="#001800" stroke-width="0.8"/>
<circle cx="235.10" cy="211.20" r="1.6" fill="#0d820d" stroke="#001800" stroke-width="0.8"/>
<circle cx="245.10" cy="216.10" r="1.6" fill="#0d820d" stroke="#001800" stroke-width="0.8"/>
<circle cx="265.70" cy="216.70" r="1.6" fill="#0d820d" stroke="#001800" stroke-width="0.8"/>
<circle cx="223.80" cy="221.60" r="1.6" fill="#0d820d" stroke="#001800" stroke-width="0.8"/>
<circle cx="223.80" cy="227.10" r="1.6" fill="#0d820d" stroke="#001800" stroke-width="0.8"/>
<circle cx="234.50" cy="225.80" r="1.6" fill="#0d820d" stroke="#001800" stroke-width="0.8"/>
<circle cx="342.30" cy="194.30" r="1.6" fill="#0d820d" stroke="#001800" stroke-width="0.8"/>
<circle cx="285.90" cy="226.70" r="1.6" fill="#0d820d" stroke="#001800" stroke-width="0.8"/>
<circle cx="289.00" cy="232.90" r="1.6" fill="#0d820d" stroke="#001800" stroke-width="0.8"/>
<circle cx="223.90" cy="242.80" r="1.6" fill="#0d820d" stroke="#001800" stroke-width="0.8"/>
<circle cx="223.90" cy="244.00" r="1.6" fill="#0d820d" stroke="#001800" stroke-width="0.8"/>
<circle cx="244.70" cy="244.40" r="1.6" fill="#0d820d" stroke="#001800" stroke-width="0.8"/>
<circle cx="238.80" cy="247.40" r="1.6" fill="#0d820d" stroke="#001800" stroke-width="0.8"/>
<circle cx="235.30" cy="249.80" r="1.6" fill="#0d820d" stroke="#001800" stroke-width="0.8"/>
<circle cx="234.40" cy="252.60" r="1.6" fill="#0d820d" stroke="#001800" stroke-width="0.8"/>
<circle cx="223.90" cy="252.40" r="1.6" fill="#0d820d" stroke="#001800" stroke-width="0.8"/>
<circle cx="223.90" cy="253.50" r="1.6" fill="#0d820d" stroke="#001800" stroke-width="0.8"/>
<circle cx="245.30" cy="252.90" r="1.6" fill="#0d820d" stroke="#001800" stroke-width="0.8"/>
<circle cx="254.90" cy="254.20" r="1.6" fill="#0d820d" stroke="#001800" stroke-width="0.8"/>
<circle cx="256.70" cy="252.00" r="1.6" fill="#0d820d" stroke="#001800" stroke-width="0.8"/>
<circle cx="223.90" cy="262.90" r="1.6" fill="#0d820d" stroke="#001800" stroke-width="0.8"/>
<circle cx="223.90" cy="264.20" r="1.6" fill="#0d820d" stroke="#001800" stroke-width="0.8"/>
<circle cx="234.90" cy="262.00" r="1.6" fill="#0d820d" stroke="#001800" stroke-width="0.8"/>
<circle cx="255.80" cy="262.60" r="1.6" fill="#0d820d" stroke="#001800" stroke-width="0.8"/>
<circle cx="256.00" cy="233.10" r="1.6" fill="#0d820d" stroke="#001800" stroke-width="0.8"/>
<circle cx="266.60" cy="243.50" r="1.6" fill="#0d820d" stroke="#001800" stroke-width="0.8"/>
<circle cx="266.60" cy="263.20" r="1.6" fill="#0d820d" stroke="#001800" stroke-width="0.8"/>
<circle cx="223.60" cy="272.10" r="1.6" fill="#0d820d" stroke="#001800" stroke-width="0.8"/>
<circle cx="235.10" cy="270.70" r="1.6" fill="#0d820d" stroke="#001800" stroke-width="0.8"/>
<circle cx="234.50" cy="272.90" r="1.6" fill="#0d820d" stroke="#001800" stroke-width="0.8"/>
<circle cx="244.60" cy="273.50" r="1.6" fill="#0d820d" stroke="#001800" stroke-width="0.8"/>
<circle cx="255.50" cy="272.90" r="1.6" fill="#0d820d" stroke="#001800" stroke-width="0.8"/>
<circle cx="267.00" cy="272.10" r="1.6" fill="#0d820d" stroke="#001800" stroke-width="0.8"/>
<circle cx="223.60" cy="279.50" r="1.6" fill="#0d820d" stroke="#001800" stroke-width="0.8"/>
<circle cx="223.60" cy="282.70" r="1.6" fill="#0d820d" stroke="#001800" stroke-width="0.8"/>
<circle cx="234.50" cy="281.90" r="1.6" fill="#0d820d" stroke="#001800" stroke-width="0.8"/>
<circle cx="245.30" cy="281.90" r="1.6" fill="#0d820d" stroke="#001800" stroke-width="0.8"/>
<circle cx="255.50" cy="282.30" r="1.6" fill="#0d820d" stroke="#001800" stroke-width="0.8"/>
<circle cx="223.60" cy="291.70" r="1.6" fill="#0d820d" stroke="#001800" stroke-width="0.8"/>
<circle cx="234.50" cy="291.70" r="1.6" fill="#0d820d" stroke="#001800" stroke-width="0.8"/>
<circle cx="223.60" cy="301.90" r="1.6" fill="#0d820d" stroke="#001800" stroke-width="0.8"/>
<circle cx="234.50" cy="301.90" r="1.6" fill="#0d820d" stroke="#001800" stroke-width="0.8"/>
<circle cx="245.70" cy="301.90" r="1.6" fill="#0d820d" stroke="#001800" stroke-width="0.8"/>
<circle cx="255.80" cy="301.90" r="1.6" fill="#0d820d" stroke="#001800" stroke-width="0.8"/>
<circle cx="304.20" cy="260.10" r="1.6" fill="#0d820d" stroke="#001800" stroke-width="0.8"/>
<circle cx="318.40" cy="263.70" r="1.6" fill="#0d820d" stroke="#001800" stroke-width="0.8"/>
<rect x="219.40" y="176.70" width="142.20" height="128.60" fill="none" stroke="#8c8c8c" stroke-width="0.9"/>
<line x1="217.40" y1="301.30" x2="219.40" y2="301.30" stroke="#555" stroke-width="0.8"/>
<text transform="translate(216.20,304.45) scale(0.885,1)" text-anchor="end" font-size="9.6">0</text>
<line x1="223.75" y1="305.30" x2="223.75" y2="307.30" stroke="#555" stroke-width="0.8"/>
<text transform="translate(223.75,314.80) scale(0.885,1)" text-anchor="middle" font-size="9.6">0</text>
<line x1="217.40" y1="282.42" x2="219.40" y2="282.42" stroke="#555" stroke-width="0.8"/>
<text transform="translate(216.20,285.57) scale(0.885,1)" text-anchor="end" font-size="9.6">5</text>
<line x1="244.65" y1="305.30" x2="244.65" y2="307.30" stroke="#555" stroke-width="0.8"/>
<text transform="translate(244.65,314.80) scale(0.885,1)" text-anchor="middle" font-size="9.6">5</text>
<line x1="217.40" y1="263.54" x2="219.40" y2="263.54" stroke="#555" stroke-width="0.8"/>
<text transform="translate(216.20,266.69) scale(0.885,1)" text-anchor="end" font-size="9.6">10</text>
<line x1="265.55" y1="305.30" x2="265.55" y2="307.30" stroke="#555" stroke-width="0.8"/>
<text transform="translate(265.55,314.80) scale(0.885,1)" text-anchor="middle" font-size="9.6">10</text>
<line x1="217.40" y1="244.66" x2="219.40" y2="244.66" stroke="#555" stroke-width="0.8"/>
<text transform="translate(216.20,247.81) scale(0.885,1)" text-anchor="end" font-size="9.6">15</text>
<line x1="286.45" y1="305.30" x2="286.45" y2="307.30" stroke="#555" stroke-width="0.8"/>
<text transform="translate(286.45,314.80) scale(0.885,1)" text-anchor="middle" font-size="9.6">15</text>
<line x1="217.40" y1="225.78" x2="219.40" y2="225.78" stroke="#555" stroke-width="0.8"/>
<text transform="translate(216.20,228.93) scale(0.885,1)" text-anchor="end" font-size="9.6">20</text>
<line x1="307.35" y1="305.30" x2="307.35" y2="307.30" stroke="#555" stroke-width="0.8"/>
<text transform="translate(307.35,314.80) scale(0.885,1)" text-anchor="middle" font-size="9.6">20</text>
<line x1="217.40" y1="206.90" x2="219.40" y2="206.90" stroke="#555" stroke-width="0.8"/>
<text transform="translate(216.20,210.05) scale(0.885,1)" text-anchor="end" font-size="9.6">25</text>
<line x1="328.25" y1="305.30" x2="328.25" y2="307.30" stroke="#555" stroke-width="0.8"/>
<text transform="translate(328.25,314.80) scale(0.885,1)" text-anchor="middle" font-size="9.6">25</text>
<line x1="217.40" y1="188.02" x2="219.40" y2="188.02" stroke="#555" stroke-width="0.8"/>
<text transform="translate(216.20,191.17) scale(0.885,1)" text-anchor="end" font-size="9.6">30</text>
<line x1="349.15" y1="305.30" x2="349.15" y2="307.30" stroke="#555" stroke-width="0.8"/>
<text transform="translate(349.15,314.80) scale(0.885,1)" text-anchor="middle" font-size="9.6">30</text>
<text x="290.60" y="323.0" text-anchor="middle" font-size="9" textLength="93.5" lengthAdjust="spacingAndGlyphs">EF1% of gnina(affinity)</text>
<text transform="translate(204.90,240.30) rotate(-90)" text-anchor="middle" font-size="8.8">EF1% of vScreenML v2</text>
<g fill="#000"><text x="297.5" y="299.6" font-size="11.4" font-weight="bold" textLength="53" lengthAdjust="spacingAndGlyphs" style="stroke:#000;stroke-width:0.2px">p &lt; 2 <tspan style="stroke:#000;stroke-width:0.7px">×</tspan> 10</text><text x="350.3" y="292.0" font-size="8.2" font-weight="bold" textLength="9.8" lengthAdjust="spacingAndGlyphs" style="stroke:#000;stroke-width:0.2px">−9</text></g>
<clipPath id="clip2"><rect x="402.90" y="176.70" width="142.20" height="128.60"/></clipPath>
<g clip-path="url(#clip2)">
<polygon points="386.35,311.87 574.45,136.86 574.45,163.66 386.35,328.49" fill="#ebecdb"/>
<line x1="386.35" y1="320.18" x2="574.45" y2="150.26" stroke="#a8b35e" stroke-width="1.0"/>
</g>
<line x1="449.50" y1="176.70" x2="449.50" y2="305.30" stroke="#555" stroke-width="1.1" stroke-dasharray="1 1.03"/>
<line x1="402.90" y1="264.0" x2="545.10" y2="264.0" stroke="#555" stroke-width="1.1" stroke-dasharray="1 1.03"/>
<circle cx="418.20" cy="204.50" r="1.6" fill="#0d820d" stroke="#001800" stroke-width="0.8"/>
<circle cx="438.80" cy="216.10" r="1.6" fill="#0d820d" stroke="#001800" stroke-width="0.8"/>
<circle cx="448.90" cy="216.70" r="1.6" fill="#0d820d" stroke="#001800" stroke-width="0.8"/>
<circle cx="440.50" cy="221.60" r="1.6" fill="#0d820d" stroke="#001800" stroke-width="0.8"/>
<circle cx="526.30" cy="194.30" r="1.6" fill="#0d820d" stroke="#001800" stroke-width="0.8"/>
<circle cx="481.80" cy="195.80" r="1.6" fill="#0d820d" stroke="#001800" stroke-width="0.8"/>
<circle cx="474.00" cy="211.20" r="1.6" fill="#0d820d" stroke="#001800" stroke-width="0.8"/>
<circle cx="470.50" cy="225.70" r="1.6" fill="#0d820d" stroke="#001800" stroke-width="0.8"/>
<circle cx="469.00" cy="227.30" r="1.6" fill="#0d820d" stroke="#001800" stroke-width="0.8"/>
<circle cx="472.60" cy="232.90" r="1.6" fill="#0d820d" stroke="#001800" stroke-width="0.8"/>
<circle cx="500.40" cy="226.70" r="1.6" fill="#0d820d" stroke="#001800" stroke-width="0.8"/>
<circle cx="439.80" cy="233.10" r="1.6" fill="#0d820d" stroke="#001800" stroke-width="0.8"/>
<circle cx="439.80" cy="243.00" r="1.6" fill="#0d820d" stroke="#001800" stroke-width="0.8"/>
<circle cx="438.80" cy="244.40" r="1.6" fill="#0d820d" stroke="#001800" stroke-width="0.8"/>
<circle cx="437.40" cy="247.20" r="1.6" fill="#0d820d" stroke="#001800" stroke-width="0.8"/>
<circle cx="430.10" cy="250.30" r="1.6" fill="#0d820d" stroke="#001800" stroke-width="0.8"/>
<circle cx="428.60" cy="253.20" r="1.6" fill="#0d820d" stroke="#001800" stroke-width="0.8"/>
<circle cx="440.10" cy="252.10" r="1.6" fill="#0d820d" stroke="#001800" stroke-width="0.8"/>
<circle cx="438.80" cy="254.40" r="1.6" fill="#0d820d" stroke="#001800" stroke-width="0.8"/>
<circle cx="449.60" cy="244.00" r="1.6" fill="#0d820d" stroke="#001800" stroke-width="0.8"/>
<circle cx="450.20" cy="252.60" r="1.6" fill="#0d820d" stroke="#001800" stroke-width="0.8"/>
<circle cx="449.20" cy="254.40" r="1.6" fill="#0d820d" stroke="#001800" stroke-width="0.8"/>
<circle cx="459.60" cy="244.50" r="1.6" fill="#0d820d" stroke="#001800" stroke-width="0.8"/>
<circle cx="407.30" cy="252.60" r="1.6" fill="#0d820d" stroke="#001800" stroke-width="0.8"/>
<circle cx="418.20" cy="253.20" r="1.6" fill="#0d820d" stroke="#001800" stroke-width="0.8"/>
<circle cx="407.30" cy="263.20" r="1.6" fill="#0d820d" stroke="#001800" stroke-width="0.8"/>
<circle cx="418.20" cy="262.20" r="1.6" fill="#0d820d" stroke="#001800" stroke-width="0.8"/>
<circle cx="417.70" cy="264.40" r="1.6" fill="#0d820d" stroke="#001800" stroke-width="0.8"/>
<circle cx="428.80" cy="262.70" r="1.6" fill="#0d820d" stroke="#001800" stroke-width="0.8"/>
<circle cx="460.60" cy="263.10" r="1.6" fill="#0d820d" stroke="#001800" stroke-width="0.8"/>
<circle cx="460.10" cy="264.30" r="1.6" fill="#0d820d" stroke="#001800" stroke-width="0.8"/>
<circle cx="418.70" cy="270.80" r="1.6" fill="#0d820d" stroke="#001800" stroke-width="0.8"/>
<circle cx="417.80" cy="273.40" r="1.6" fill="#0d820d" stroke="#001800" stroke-width="0.8"/>
<circle cx="423.40" cy="272.90" r="1.6" fill="#0d820d" stroke="#001800" stroke-width="0.8"/>
<circle cx="461.00" cy="272.50" r="1.6" fill="#0d820d" stroke="#001800" stroke-width="0.8"/>
<circle cx="407.30" cy="281.00" r="1.6" fill="#0d820d" stroke="#001800" stroke-width="0.8"/>
<circle cx="407.30" cy="282.40" r="1.6" fill="#0d820d" stroke="#001800" stroke-width="0.8"/>
<circle cx="418.20" cy="282.10" r="1.6" fill="#0d820d" stroke="#001800" stroke-width="0.8"/>
<circle cx="428.50" cy="282.40" r="1.6" fill="#0d820d" stroke="#001800" stroke-width="0.8"/>
<circle cx="429.20" cy="281.70" r="1.6" fill="#0d820d" stroke="#001800" stroke-width="0.8"/>
<circle cx="431.80" cy="279.20" r="1.6" fill="#0d820d" stroke="#001800" stroke-width="0.8"/>
<circle cx="439.70" cy="282.10" r="1.6" fill="#0d820d" stroke="#001800" stroke-width="0.8"/>
<circle cx="449.30" cy="282.70" r="1.6" fill="#0d820d" stroke="#001800" stroke-width="0.8"/>
<circle cx="452.60" cy="281.00" r="1.6" fill="#0d820d" stroke="#001800" stroke-width="0.8"/>
<circle cx="407.30" cy="291.90" r="1.6" fill="#0d820d" stroke="#001800" stroke-width="0.8"/>
<circle cx="418.20" cy="291.90" r="1.6" fill="#0d820d" stroke="#001800" stroke-width="0.8"/>
<circle cx="428.50" cy="292.40" r="1.6" fill="#0d820d" stroke="#001800" stroke-width="0.8"/>
<circle cx="460.00" cy="292.10" r="1.6" fill="#0d820d" stroke="#001800" stroke-width="0.8"/>
<circle cx="407.30" cy="301.70" r="1.6" fill="#0d820d" stroke="#001800" stroke-width="0.8"/>
<circle cx="417.80" cy="301.70" r="1.6" fill="#0d820d" stroke="#001800" stroke-width="0.8"/>
<circle cx="421.60" cy="301.70" r="1.6" fill="#0d820d" stroke="#001800" stroke-width="0.8"/>
<circle cx="429.20" cy="301.70" r="1.6" fill="#0d820d" stroke="#001800" stroke-width="0.8"/>
<circle cx="439.40" cy="301.70" r="1.6" fill="#0d820d" stroke="#001800" stroke-width="0.8"/>
<circle cx="482.00" cy="243.90" r="1.6" fill="#0d820d" stroke="#001800" stroke-width="0.8"/>
<circle cx="462.70" cy="251.80" r="1.6" fill="#0d820d" stroke="#001800" stroke-width="0.8"/>
<circle cx="537.20" cy="252.90" r="1.6" fill="#0d820d" stroke="#001800" stroke-width="0.8"/>
<circle cx="510.60" cy="260.10" r="1.6" fill="#0d820d" stroke="#001800" stroke-width="0.8"/>
<circle cx="518.00" cy="261.90" r="1.6" fill="#0d820d" stroke="#001800" stroke-width="0.8"/>
<circle cx="537.20" cy="272.00" r="1.6" fill="#0d820d" stroke="#001800" stroke-width="0.8"/>
<circle cx="482.70" cy="282.60" r="1.6" fill="#0d820d" stroke="#001800" stroke-width="0.8"/>
<circle cx="494.00" cy="282.20" r="1.6" fill="#0d820d" stroke="#001800" stroke-width="0.8"/>
<circle cx="461.20" cy="302.00" r="1.6" fill="#0d820d" stroke="#001800" stroke-width="0.8"/>
<rect x="402.90" y="176.70" width="142.20" height="128.60" fill="none" stroke="#8c8c8c" stroke-width="0.9"/>
<line x1="400.90" y1="301.30" x2="402.90" y2="301.30" stroke="#555" stroke-width="0.8"/>
<text transform="translate(399.70,304.45) scale(0.885,1)" text-anchor="end" font-size="9.6">0</text>
<line x1="407.25" y1="305.30" x2="407.25" y2="307.30" stroke="#555" stroke-width="0.8"/>
<text transform="translate(407.25,314.80) scale(0.885,1)" text-anchor="middle" font-size="9.6">0</text>
<line x1="400.90" y1="282.42" x2="402.90" y2="282.42" stroke="#555" stroke-width="0.8"/>
<text transform="translate(399.70,285.57) scale(0.885,1)" text-anchor="end" font-size="9.6">5</text>
<line x1="428.15" y1="305.30" x2="428.15" y2="307.30" stroke="#555" stroke-width="0.8"/>
<text transform="translate(428.15,314.80) scale(0.885,1)" text-anchor="middle" font-size="9.6">5</text>
<line x1="400.90" y1="263.54" x2="402.90" y2="263.54" stroke="#555" stroke-width="0.8"/>
<text transform="translate(399.70,266.69) scale(0.885,1)" text-anchor="end" font-size="9.6">10</text>
<line x1="449.05" y1="305.30" x2="449.05" y2="307.30" stroke="#555" stroke-width="0.8"/>
<text transform="translate(449.05,314.80) scale(0.885,1)" text-anchor="middle" font-size="9.6">10</text>
<line x1="400.90" y1="244.66" x2="402.90" y2="244.66" stroke="#555" stroke-width="0.8"/>
<text transform="translate(399.70,247.81) scale(0.885,1)" text-anchor="end" font-size="9.6">15</text>
<line x1="469.95" y1="305.30" x2="469.95" y2="307.30" stroke="#555" stroke-width="0.8"/>
<text transform="translate(469.95,314.80) scale(0.885,1)" text-anchor="middle" font-size="9.6">15</text>
<line x1="400.90" y1="225.78" x2="402.90" y2="225.78" stroke="#555" stroke-width="0.8"/>
<text transform="translate(399.70,228.93) scale(0.885,1)" text-anchor="end" font-size="9.6">20</text>
<line x1="490.85" y1="305.30" x2="490.85" y2="307.30" stroke="#555" stroke-width="0.8"/>
<text transform="translate(490.85,314.80) scale(0.885,1)" text-anchor="middle" font-size="9.6">20</text>
<line x1="400.90" y1="206.90" x2="402.90" y2="206.90" stroke="#555" stroke-width="0.8"/>
<text transform="translate(399.70,210.05) scale(0.885,1)" text-anchor="end" font-size="9.6">25</text>
<line x1="511.75" y1="305.30" x2="511.75" y2="307.30" stroke="#555" stroke-width="0.8"/>
<text transform="translate(511.75,314.80) scale(0.885,1)" text-anchor="middle" font-size="9.6">25</text>
<line x1="400.90" y1="188.02" x2="402.90" y2="188.02" stroke="#555" stroke-width="0.8"/>
<text transform="translate(399.70,191.17) scale(0.885,1)" text-anchor="end" font-size="9.6">30</text>
<line x1="532.65" y1="305.30" x2="532.65" y2="307.30" stroke="#555" stroke-width="0.8"/>
<text transform="translate(532.65,314.80) scale(0.885,1)" text-anchor="middle" font-size="9.6">30</text>
<text x="474.10" y="323.0" text-anchor="middle" font-size="9" textLength="111.2" lengthAdjust="spacingAndGlyphs">EF1% of gnina(CNNaffinity)</text>
<text transform="translate(388.40,240.30) rotate(-90)" text-anchor="middle" font-size="8.8">EF1% of vScreenML v2</text>
<g fill="#000"><text x="493.4" y="299.6" font-size="11.4" font-weight="bold" textLength="48.5" lengthAdjust="spacingAndGlyphs" style="stroke:#000;stroke-width:0.2px">p = 0.021</text></g>
</svg>
</body></html>
